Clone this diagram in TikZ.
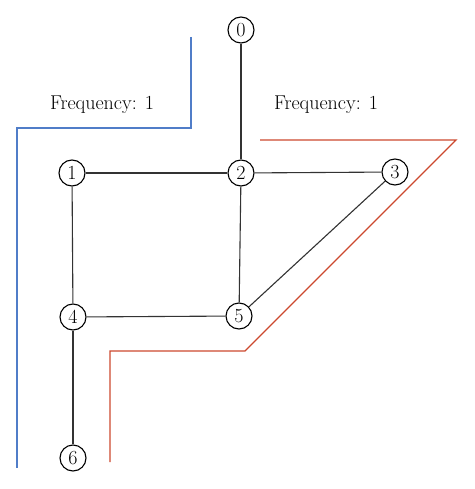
\documentclass[tikz,border=0pt]{standalone}
\usepackage{fontspec}
\usepackage{tikz}
\usetikzlibrary{positioning}
\definecolor{cutblue}{RGB}{80,125,200}
\definecolor{cutred}{RGB}{204,72,46}

\begin{document}
\begin{tikzpicture}[x=1pt, y=-1pt,
      vertex/.style = {circle, draw, line width=1.1pt, inner sep=0pt,
                       minimum size=26pt, font=\fontsize{20}{22}\selectfont},
      edge/.style   = {line width=1.1pt, draw=black!80},
      cut/.style    = {line width=1.3pt},
      freq/.style   = {font=\fontsize{20}{22}\selectfont}
    ]
    \useasboundingbox (0,0) rectangle (474,489);

    % vertices
    \node[vertex] (v0) at (241,30)  {0};
    \node[vertex] (v1) at (72,173)  {1};
    \node[vertex] (v2) at (241,173) {2};
    \node[vertex] (v3) at (395,172) {3};
    \node[vertex] (v4) at (73,317)  {4};
    \node[vertex] (v5) at (239,316) {5};
    \node[vertex] (v6) at (73,458)  {6};

    % edges
    \draw[edge] (v0) -- (v2);
    \draw[edge] (v1) -- (v2);
    \draw[edge] (v2) -- (v3);
    \draw[edge] (v1) -- (v4);
    \draw[edge] (v2) -- (v5);
    \draw[edge] (v3) -- (v5);
    \draw[edge] (v4) -- (v5);
    \draw[edge] (v4) -- (v6);

    % cuts
    \coordinate (b1) at (191,37);
    \coordinate (b2) at (191,128);
    \coordinate (b3) at (17,128);
    \coordinate (b4) at (17,468);
    \draw[cut, cutblue] (b1) -- (b2) -- (b3) -- (b4);

    \coordinate (r1) at (260,140);
    \coordinate (r2) at (456,140);
    \coordinate (r3) at (245,351);
    \coordinate (r4) at (110,351);
    \coordinate (r5) at (110,462);
    \draw[cut, cutred] (r1) -- (r2) -- (r3) -- (r4) -- (r5);

    \node[freq] (fleft)  at (102,105) {Frequency: 1};
    \node[freq] (fright) at (326,105) {Frequency: 1};
  \end{tikzpicture}
\end{document}
